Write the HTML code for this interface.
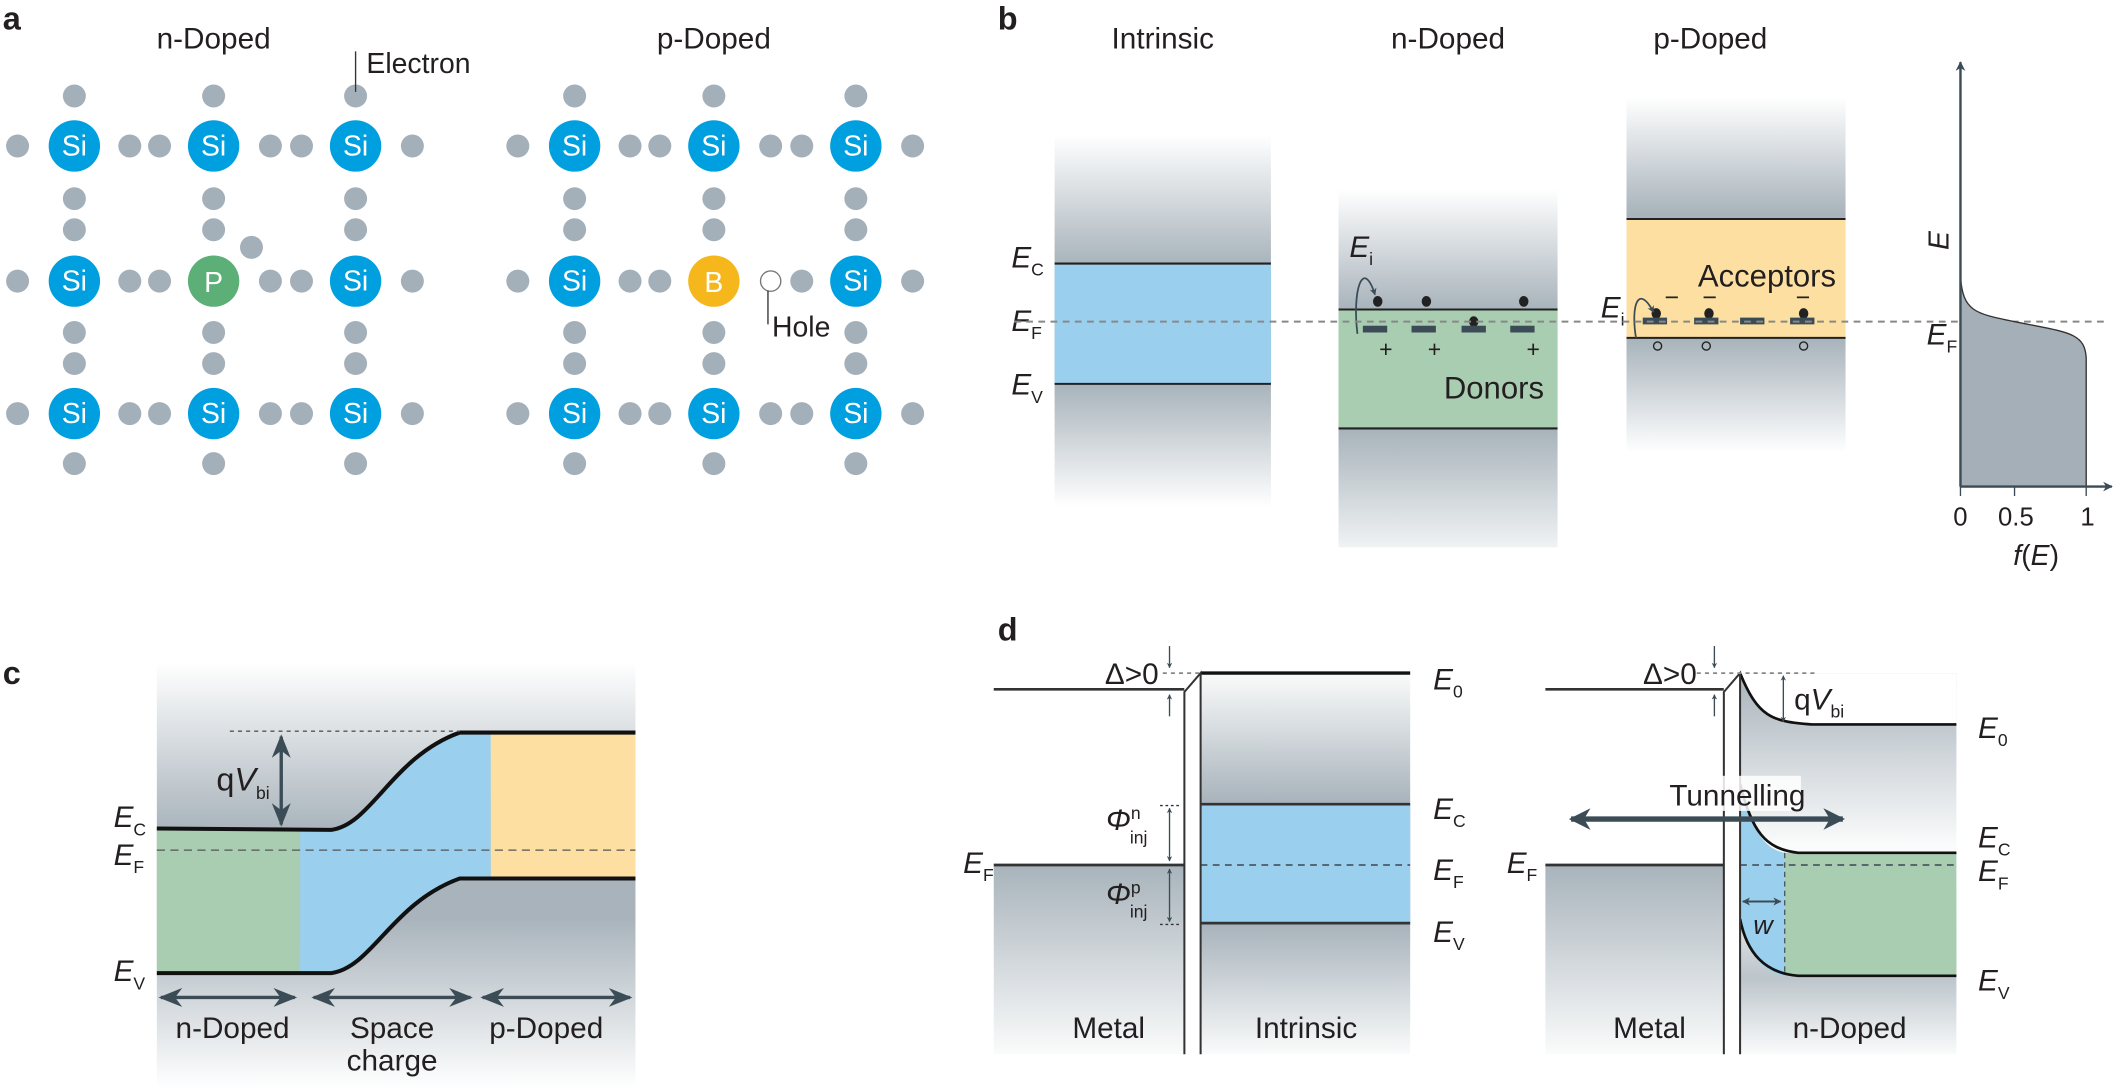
<!DOCTYPE html>
<html><head><meta charset="utf-8"><style>
html,body{margin:0;padding:0;background:#fff;}
svg{display:block;}
text{font-family:"Liberation Sans Narrow","Liberation Sans",sans-serif;fill:#231f20;}
</style></head><body>
<svg width="2120" height="1088" viewBox="0 0 1568 805" preserveAspectRatio="none" xmlns="http://www.w3.org/2000/svg">
<defs>
<g id="lat">
<g fill="#a4b0b9">
<circle cx="13" cy="108" r="8.5"/><circle cx="96" cy="108" r="8.5"/><circle cx="118" cy="108" r="8.5"/><circle cx="200" cy="108" r="8.5"/><circle cx="223" cy="108" r="8.5"/><circle cx="305" cy="108" r="8.5"/>
<circle cx="13" cy="208" r="8.5"/><circle cx="96" cy="208" r="8.5"/><circle cx="118" cy="208" r="8.5"/><circle cx="200" cy="208" r="8.5"/><circle cx="223" cy="208" r="8.5"/><circle cx="305" cy="208" r="8.5"/>
<circle cx="13" cy="306" r="8.5"/><circle cx="96" cy="306" r="8.5"/><circle cx="118" cy="306" r="8.5"/><circle cx="200" cy="306" r="8.5"/><circle cx="223" cy="306" r="8.5"/><circle cx="305" cy="306" r="8.5"/>
<circle cx="55" cy="71" r="8.5"/><circle cx="55" cy="147" r="8.5"/><circle cx="55" cy="170" r="8.5"/><circle cx="55" cy="246" r="8.5"/><circle cx="55" cy="269" r="8.5"/><circle cx="55" cy="343" r="8.5"/>
<circle cx="158" cy="71" r="8.5"/><circle cx="158" cy="147" r="8.5"/><circle cx="158" cy="170" r="8.5"/><circle cx="158" cy="246" r="8.5"/><circle cx="158" cy="269" r="8.5"/><circle cx="158" cy="343" r="8.5"/>
<circle cx="263" cy="71" r="8.5"/><circle cx="263" cy="147" r="8.5"/><circle cx="263" cy="170" r="8.5"/><circle cx="263" cy="246" r="8.5"/><circle cx="263" cy="269" r="8.5"/><circle cx="263" cy="343" r="8.5"/>
</g>
<g fill="#009fdf">
<circle cx="55" cy="108" r="19"/><circle cx="158" cy="108" r="19"/><circle cx="263" cy="108" r="19"/>
<circle cx="55" cy="208" r="19"/><circle cx="263" cy="208" r="19"/>
<circle cx="55" cy="306" r="19"/><circle cx="158" cy="306" r="19"/><circle cx="263" cy="306" r="19"/>
</g>
<g font-size="21" text-anchor="middle">
<text x="55" y="115" style="fill:#fff">Si</text><text x="158" y="115" style="fill:#fff">Si</text><text x="263" y="115" style="fill:#fff">Si</text>
<text x="55" y="215" style="fill:#fff">Si</text><text x="263" y="215" style="fill:#fff">Si</text>
<text x="55" y="313" style="fill:#fff">Si</text><text x="158" y="313" style="fill:#fff">Si</text><text x="263" y="313" style="fill:#fff">Si</text>
</g>
</g>
<linearGradient id="gi" gradientUnits="userSpaceOnUse" x1="0" y1="100" x2="0" y2="375">
<stop offset="0" stop-color="#fff"/><stop offset="0.35" stop-color="#a8b3bb"/><stop offset="0.67" stop-color="#a8b3bb"/><stop offset="1" stop-color="#fff"/></linearGradient>
<linearGradient id="gn" gradientUnits="userSpaceOnUse" x1="0" y1="140" x2="0" y2="410">
<stop offset="0" stop-color="#fff"/><stop offset="0.33" stop-color="#a8b3bb"/><stop offset="0.66" stop-color="#a8b3bb"/><stop offset="1" stop-color="#f4f6f7"/></linearGradient>
<linearGradient id="gp" gradientUnits="userSpaceOnUse" x1="0" y1="72" x2="0" y2="335">
<stop offset="0" stop-color="#fff"/><stop offset="0.33" stop-color="#a8b3bb"/><stop offset="0.68" stop-color="#a8b3bb"/><stop offset="1" stop-color="#fff"/></linearGradient>
<linearGradient id="gc" gradientUnits="userSpaceOnUse" x1="0" y1="490" x2="0" y2="805">
<stop offset="0" stop-color="#fff"/><stop offset="0.4" stop-color="#a8b3bb"/><stop offset="0.6" stop-color="#a8b3bb"/><stop offset="1" stop-color="#fff"/></linearGradient>
<linearGradient id="gd1" gradientUnits="userSpaceOnUse" x1="0" y1="498" x2="0" y2="780">
<stop offset="0" stop-color="#fafbfb"/><stop offset="0.34" stop-color="#a8b3bb"/><stop offset="0.66" stop-color="#a8b3bb"/><stop offset="1" stop-color="#fafbfb"/></linearGradient>
<linearGradient id="gm" gradientUnits="userSpaceOnUse" x1="0" y1="640" x2="0" y2="780">
<stop offset="0" stop-color="#a8b3bb"/><stop offset="1" stop-color="#fafbfb"/></linearGradient>
<linearGradient id="gd2" gradientUnits="userSpaceOnUse" x1="0" y1="498" x2="0" y2="780">
<stop offset="0" stop-color="#a8b3bb"/><stop offset="0.45" stop-color="#fafbfb"/><stop offset="0.55" stop-color="#fafbfb"/><stop offset="0.8" stop-color="#bcc5cb"/><stop offset="1" stop-color="#fafbfb"/></linearGradient>
<marker id="ah" viewBox="0 0 10 10" refX="9" refY="5" markerWidth="4" markerHeight="4" orient="auto-start-reverse"><path d="M0,0 L10,5 L0,10 L3,5 Z" fill="#3b4c56"/></marker>
<marker id="ahs" viewBox="0 0 10 10" refX="9" refY="5" markerWidth="7" markerHeight="7" orient="auto-start-reverse"><path d="M0,1 L10,5 L0,9 L3,5 Z" fill="#3b4c56"/></marker>
</defs>

<!-- PANEL A -->
<text x="2" y="22" font-size="24" font-weight="bold" style="font-family:'Liberation Sans',sans-serif">a</text>
<text x="158" y="36" font-size="22" text-anchor="middle">n-Doped</text>
<text x="528" y="36" font-size="22" text-anchor="middle">p-Doped</text>
<use href="#lat"/>
<circle cx="158" cy="208" r="19" fill="#5daf78"/><text x="158" y="216" font-size="21" text-anchor="middle" style="fill:#fff">P</text>
<circle cx="186" cy="183" r="8.5" fill="#a4b0b9"/>
<line x1="263" y1="68" x2="263" y2="38" stroke="#333" stroke-width="1"/>
<text x="271" y="54" font-size="21">Electron</text>
<use href="#lat" transform="translate(370,0)"/>
<circle cx="528" cy="208" r="19" fill="#f5b71c"/><text x="528" y="216" font-size="21" text-anchor="middle" style="fill:#fff">B</text>
<circle cx="570" cy="208" r="9.5" fill="#fff"/>
<circle cx="570" cy="208" r="7.5" fill="#fff" stroke="#777" stroke-width="1"/>
<line x1="568" y1="215" x2="568" y2="240" stroke="#333" stroke-width="1"/>
<text x="571" y="249" font-size="21">Hole</text>

<!-- PANEL B -->
<text x="738" y="22" font-size="24" font-weight="bold" style="font-family:'Liberation Sans',sans-serif">b</text>
<text x="860" y="36" font-size="22" text-anchor="middle">Intrinsic</text>
<text x="1071" y="36" font-size="22" text-anchor="middle">n-Doped</text>
<text x="1265" y="36" font-size="22" text-anchor="middle">p-Doped</text>
<rect x="780" y="100" width="160" height="275" fill="url(#gi)"/>
<rect x="780" y="195" width="160" height="89" fill="#9bcfee"/>
<line x1="780" y1="195" x2="940" y2="195" stroke="#222" stroke-width="1.5"/>
<line x1="780" y1="284" x2="940" y2="284" stroke="#222" stroke-width="1.5"/>
<rect x="990" y="140" width="162" height="265" fill="url(#gn)"/>
<rect x="990" y="229" width="162" height="88" fill="#a9cdb1"/>
<line x1="990" y1="229" x2="1152" y2="229" stroke="#222" stroke-width="1.5"/>
<line x1="990" y1="317" x2="1152" y2="317" stroke="#222" stroke-width="1.5"/>
<rect x="1203" y="72" width="162" height="263" fill="url(#gp)"/>
<rect x="1203" y="162" width="162" height="88" fill="#fde0a1"/>
<line x1="1203" y1="162" x2="1365" y2="162" stroke="#222" stroke-width="1.5"/>
<line x1="1203" y1="250" x2="1365" y2="250" stroke="#222" stroke-width="1.5"/>
<g font-size="22">
<text x="748" y="198"><tspan font-style="italic">E</tspan><tspan font-size="13" dy="6">C</tspan></text>
<text x="748" y="245"><tspan font-style="italic">E</tspan><tspan font-size="13" dy="6">F</tspan></text>
<text x="748" y="292"><tspan font-style="italic">E</tspan><tspan font-size="13" dy="6">V</tspan></text>
<text x="998" y="190"><tspan font-style="italic">E</tspan><tspan font-size="13" dy="6">i</tspan></text>
<text x="1184" y="235"><tspan font-style="italic">E</tspan><tspan font-size="13" dy="6">i</tspan></text>
<text x="1142" y="295" text-anchor="end" font-size="23">Donors</text>
<text x="1358" y="212" text-anchor="end" font-size="23">Acceptors</text>
</g>
<g fill="#222">
<ellipse cx="1019" cy="223" rx="3.5" ry="4"/><ellipse cx="1055" cy="223" rx="3.5" ry="4"/><ellipse cx="1127" cy="223" rx="3.5" ry="4"/><ellipse cx="1090" cy="238" rx="3.5" ry="4"/>
<ellipse cx="1264" cy="232" rx="3.5" ry="4"/><ellipse cx="1334" cy="232" rx="3.5" ry="4"/>
<ellipse cx="1225" cy="232" rx="3.5" ry="4"/>
</g>
<g fill="#3b4c56">
<rect x="1008" y="241" width="18" height="5"/><rect x="1044" y="241" width="18" height="5"/><rect x="1081" y="241" width="18" height="5"/><rect x="1117" y="241" width="18" height="5"/>
<rect x="1215" y="235" width="18" height="5"/><rect x="1253" y="235" width="18" height="5"/><rect x="1287" y="235" width="18" height="5"/><rect x="1324" y="235" width="18" height="5"/>
</g>
<g font-size="17" text-anchor="middle">
<text x="1025" y="264">+</text><text x="1061" y="264">+</text><text x="1134" y="264">+</text>
</g>
<g stroke="#222" stroke-width="1.3">
<line x1="1232" y1="220" x2="1241" y2="220"/><line x1="1260" y1="220" x2="1269" y2="220"/><line x1="1329" y1="220" x2="1338" y2="220"/>
</g>
<g fill="none" stroke="#222" stroke-width="1">
<circle cx="1226" cy="256" r="3"/><circle cx="1262" cy="256" r="3"/><circle cx="1334" cy="256" r="3"/>
</g>
<path d="M1004,247 C1000,215 1008,190 1017,218" fill="none" stroke="#3b4c56" stroke-width="1.3" marker-end="url(#ah)"/>
<path d="M1210,250 C1206,225 1212,210 1223,231" fill="none" stroke="#3b4c56" stroke-width="1.3" marker-end="url(#ah)"/>
<line x1="750" y1="238" x2="1556" y2="238" stroke="#888" stroke-width="1.5" stroke-dasharray="5,4"/>
<path d="M1450,205 C1452,230 1460,232 1490,238 C1530,246 1542,246 1543,265 L1543,360 L1450,360 Z" fill="#a4afb8" stroke="#333" stroke-width="1"/>
<line x1="1450" y1="360" x2="1450" y2="46" stroke="#3b4c56" stroke-width="1.8" marker-end="url(#ah)"/>
<line x1="1450" y1="360" x2="1562" y2="360" stroke="#3b4c56" stroke-width="1.8" marker-end="url(#ah)"/>
<g stroke="#3b4c56" stroke-width="1"><line x1="1450" y1="360" x2="1450" y2="367"/><line x1="1490" y1="360" x2="1490" y2="367"/><line x1="1543" y1="360" x2="1543" y2="367"/></g>
<g font-size="19" text-anchor="middle"><text x="1450" y="389">0</text><text x="1491" y="389">0.5</text><text x="1544" y="389">1</text></g>
<text x="1506" y="418" font-size="21" text-anchor="middle"><tspan font-style="italic">f</tspan>(<tspan font-style="italic">E</tspan>)</text>
<text x="1441" y="178" font-size="21" font-style="italic" text-anchor="middle" transform="rotate(-90 1441 178)">E</text>
<text x="1425" y="255" font-size="22"><tspan font-style="italic">E</tspan><tspan font-size="13" dy="6">F</tspan></text>

<!-- PANEL C -->
<text x="2" y="506" font-size="24" font-weight="bold" style="font-family:'Liberation Sans',sans-serif">c</text>
<rect x="116" y="490" width="354" height="315" fill="url(#gc)"/>
<rect x="116" y="613" width="106" height="107" fill="#a9cdb1"/>
<path d="M222,613 L245,614 C275,610 290,560 340,542 L363,542 L363,650 L340,650 C290,668 275,716 245,720 L222,720 Z" fill="#9bcfee"/>
<rect x="363" y="542" width="107" height="108" fill="#fde0a1"/>
<path d="M116,613 L245,614 C275,610 290,560 340,542 L470,542" fill="none" stroke="#111" stroke-width="3"/>
<path d="M116,720 L245,720 C275,716 290,668 340,650 L470,650" fill="none" stroke="#111" stroke-width="3"/>
<line x1="116" y1="629" x2="470" y2="629" stroke="#555" stroke-width="1" stroke-dasharray="6,4"/>
<line x1="170" y1="541" x2="340" y2="541" stroke="#555" stroke-width="1" stroke-dasharray="3,3"/>
<line x1="208" y1="545" x2="208" y2="610" stroke="#3b4c56" stroke-width="2.5" marker-start="url(#ahs)" marker-end="url(#ahs)"/>
<text x="160" y="585" font-size="24">q<tspan font-style="italic">V</tspan><tspan font-size="13" dy="6">bi</tspan></text>
<g font-size="22">
<text x="84" y="612"><tspan font-style="italic">E</tspan><tspan font-size="13" dy="6">C</tspan></text>
<text x="84" y="640"><tspan font-style="italic">E</tspan><tspan font-size="13" dy="6">F</tspan></text>
<text x="84" y="726"><tspan font-style="italic">E</tspan><tspan font-size="13" dy="6">V</tspan></text>
</g>
<g stroke="#3b4c56" stroke-width="2.5">
<line x1="119" y1="738" x2="218" y2="738" marker-start="url(#ahs)" marker-end="url(#ahs)"/>
<line x1="232" y1="738" x2="348" y2="738" marker-start="url(#ahs)" marker-end="url(#ahs)"/>
<line x1="357" y1="738" x2="466" y2="738" marker-start="url(#ahs)" marker-end="url(#ahs)"/>
</g>
<g font-size="22" text-anchor="middle">
<text x="172" y="768">n-Doped</text><text x="290" y="768">Space</text><text x="290" y="792">charge</text><text x="404" y="768">p-Doped</text>
</g>

<!-- PANEL D -->
<text x="738" y="474" font-size="24" font-weight="bold" style="font-family:'Liberation Sans',sans-serif">d</text>
<rect x="735" y="640" width="141" height="140" fill="url(#gm)"/>
<rect x="888" y="498" width="155" height="282" fill="url(#gd1)"/>
<rect x="888" y="595" width="155" height="88" fill="#9bcfee"/>
<line x1="735" y1="510" x2="876" y2="510" stroke="#333" stroke-width="2"/>
<line x1="735" y1="640" x2="876" y2="640" stroke="#333" stroke-width="2"/>
<line x1="888" y1="498" x2="1043" y2="498" stroke="#111" stroke-width="2.5"/>
<line x1="888" y1="595" x2="1043" y2="595" stroke="#333" stroke-width="2"/>
<line x1="888" y1="683" x2="1043" y2="683" stroke="#333" stroke-width="2"/>
<line x1="888" y1="640" x2="1043" y2="640" stroke="#4a5a64" stroke-width="1.3" stroke-dasharray="5,4"/>
<rect x="876" y="505" width="12" height="275" fill="#fff"/>
<path d="M876,780 L876,512 L888,498 L888,780" fill="none" stroke="#333" stroke-width="1.5"/>
<line x1="860" y1="498" x2="888" y2="498" stroke="#888" stroke-width="1.3" stroke-dasharray="3,3"/>
<line x1="865" y1="478" x2="865" y2="494" stroke="#3b4c56" stroke-width="1" marker-end="url(#ah)"/>
<line x1="865" y1="530" x2="865" y2="514" stroke="#3b4c56" stroke-width="1" marker-end="url(#ah)"/>
<text x="857" y="506" font-size="22" text-anchor="end">Δ&gt;0</text>
<line x1="858" y1="596" x2="872" y2="596" stroke="#333" stroke-width="1" stroke-dasharray="2,2"/>
<line x1="858" y1="684" x2="872" y2="684" stroke="#333" stroke-width="1" stroke-dasharray="2,2"/>
<line x1="865" y1="598" x2="865" y2="637" stroke="#3b4c56" stroke-width="1" marker-start="url(#ah)" marker-end="url(#ah)"/>
<line x1="865" y1="643" x2="865" y2="682" stroke="#3b4c56" stroke-width="1" marker-start="url(#ah)" marker-end="url(#ah)"/>
<text x="818" y="614" font-size="22"><tspan font-style="italic">Φ</tspan><tspan font-size="13" dy="-8">n</tspan><tspan font-size="13" dx="-8" dy="18">inj</tspan></text>
<text x="818" y="669" font-size="22"><tspan font-style="italic">Φ</tspan><tspan font-size="13" dy="-8">p</tspan><tspan font-size="13" dx="-8" dy="18">inj</tspan></text>
<g font-size="22">
<text x="735" y="646" text-anchor="end"><tspan font-style="italic">E</tspan><tspan font-size="13" dy="6">F</tspan></text>
<text x="1060" y="510"><tspan font-style="italic">E</tspan><tspan font-size="13" dy="6">0</tspan></text>
<text x="1060" y="606"><tspan font-style="italic">E</tspan><tspan font-size="13" dy="6">C</tspan></text>
<text x="1060" y="651"><tspan font-style="italic">E</tspan><tspan font-size="13" dy="6">F</tspan></text>
<text x="1060" y="697"><tspan font-style="italic">E</tspan><tspan font-size="13" dy="6">V</tspan></text>
<text x="820" y="768" text-anchor="middle">Metal</text>
<text x="966" y="768" text-anchor="middle">Intrinsic</text>
</g>
<rect x="1143" y="640" width="132" height="140" fill="url(#gm)"/>
<rect x="1287" y="498" width="160" height="282" fill="url(#gd2)"/>
<path d="M1287,498 C1300,530 1310,534 1340,536 L1447,536 L1447,498 Z" fill="#fff"/>
<path d="M1287,580 C1296,615 1305,628 1320,631 L1320,722 C1305,720 1292,705 1287,680 Z" fill="#9bcfee"/>
<rect x="1320" y="631" width="127" height="91" fill="#a9cdb1"/>
<path d="M1287,498 C1300,530 1310,534 1340,536 L1447,536" fill="none" stroke="#111" stroke-width="2"/>
<path d="M1287,580 C1296,615 1305,628 1330,631 L1447,631" fill="none" stroke="#111" stroke-width="2"/>
<path d="M1287,680 C1292,705 1305,720 1330,722 L1447,722" fill="none" stroke="#111" stroke-width="2"/>
<line x1="1287" y1="640" x2="1447" y2="640" stroke="#4a5a64" stroke-width="1.3" stroke-dasharray="5,4"/>
<line x1="1320" y1="631" x2="1320" y2="722" stroke="#4a5a64" stroke-width="1" stroke-dasharray="4,3"/>
<line x1="1143" y1="510" x2="1275" y2="510" stroke="#333" stroke-width="2"/>
<line x1="1143" y1="640" x2="1275" y2="640" stroke="#333" stroke-width="2"/>
<rect x="1275" y="505" width="12" height="275" fill="#fff"/>
<path d="M1275,780 L1275,512 L1287,498 L1287,780" fill="none" stroke="#333" stroke-width="1.5"/>
<line x1="1255" y1="498" x2="1345" y2="498" stroke="#888" stroke-width="1.3" stroke-dasharray="3,3"/>
<line x1="1268" y1="478" x2="1268" y2="494" stroke="#3b4c56" stroke-width="1" marker-end="url(#ah)"/>
<line x1="1268" y1="530" x2="1268" y2="514" stroke="#3b4c56" stroke-width="1" marker-end="url(#ah)"/>
<text x="1255" y="506" font-size="22" text-anchor="end">Δ&gt;0</text>
<line x1="1319" y1="500" x2="1319" y2="534" stroke="#3b4c56" stroke-width="1" marker-start="url(#ah)" marker-end="url(#ah)"/>
<text x="1327" y="525" font-size="22">q<tspan font-style="italic">V</tspan><tspan font-size="13" dy="6">bi</tspan></text>
<rect x="1240" y="574" width="92" height="26" fill="#fff" opacity="0.85"/>
<text x="1285" y="596" font-size="22" text-anchor="middle">Tunnelling</text>
<line x1="1162" y1="606" x2="1363" y2="606" stroke="#3b4c56" stroke-width="4" marker-start="url(#ah)" marker-end="url(#ah)"/>
<line x1="1289" y1="667" x2="1317" y2="667" stroke="#3b4c56" stroke-width="1.5" marker-start="url(#ah)" marker-end="url(#ah)"/>
<text x="1304" y="691" font-size="20" font-style="italic" text-anchor="middle">w</text>
<g font-size="22">
<text x="1137" y="646" text-anchor="end"><tspan font-style="italic">E</tspan><tspan font-size="13" dy="6">F</tspan></text>
<text x="1463" y="546"><tspan font-style="italic">E</tspan><tspan font-size="13" dy="6">0</tspan></text>
<text x="1463" y="627"><tspan font-style="italic">E</tspan><tspan font-size="13" dy="6">C</tspan></text>
<text x="1463" y="652"><tspan font-style="italic">E</tspan><tspan font-size="13" dy="6">F</tspan></text>
<text x="1463" y="733"><tspan font-style="italic">E</tspan><tspan font-size="13" dy="6">V</tspan></text>
<text x="1220" y="768" text-anchor="middle">Metal</text>
<text x="1368" y="768" text-anchor="middle">n-Doped</text>
</g>
</svg>
</body></html>
